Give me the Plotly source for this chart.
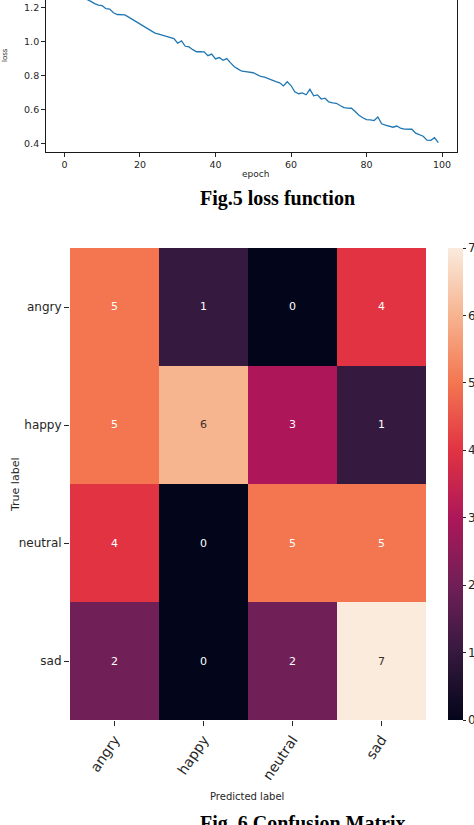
import plotly.graph_objects as go

# --- Fig.5 loss curve ---
epochs = list(range(100))
loss = [1.315, 1.305, 1.292, 1.280, 1.268, 1.258, 1.248, 1.235, 1.222, 1.213,
        1.210, 1.192, 1.190, 1.168, 1.158, 1.155, 1.156, 1.143, 1.130, 1.113,
        1.103, 1.088, 1.078, 1.062, 1.049, 1.043, 1.036, 1.029, 1.024, 1.017,
        0.990, 1.003, 0.972, 0.968, 0.952, 0.940, 0.940, 0.939, 0.917, 0.926,
        0.898, 0.906, 0.890, 0.900, 0.875, 0.852, 0.838, 0.826, 0.823, 0.822,
        0.817, 0.806, 0.795, 0.791, 0.782, 0.771, 0.765, 0.758, 0.740, 0.764,
        0.742, 0.705, 0.694, 0.699, 0.688, 0.720, 0.682, 0.687, 0.663, 0.668,
        0.646, 0.641, 0.638, 0.625, 0.613, 0.610, 0.609, 0.590, 0.568, 0.553,
        0.542, 0.541, 0.537, 0.558, 0.518, 0.510, 0.503, 0.498, 0.505, 0.492,
        0.487, 0.485, 0.486, 0.463, 0.452, 0.445, 0.422, 0.421, 0.437, 0.408]
loss_xticks = [0, 20, 40, 60, 80, 100]
loss_yticks = [0.4, 0.6, 0.8, 1.0, 1.2]

# --- Fig.6 confusion matrix ---
labels = ["angry", "happy", "neutral", "sad"]
cm = [[5, 1, 0, 4],
      [5, 6, 3, 1],
      [4, 0, 5, 5],
      [2, 0, 2, 7]]
cbar_ticks = [0, 1, 2, 3, 4, 5, 6, 7]

W, H = 474, 825
# seaborn "rocket" sampled at k/7
rocket = ["#03051a", "#35193e", "#701f57", "#ad1759",
          "#e13342", "#f37651", "#f6b48f", "#faebdd"]
colorscale = [[i / 7, c] for i, c in enumerate(rocket)]

small = "DejaVu Sans"
serif = "Liberation Serif, Times New Roman, serif"
ink = "#262626"


def px(x):
    return x / W


def py(y):
    return 1 - y / H


fig = go.Figure()
fig.add_trace(go.Scatter(x=epochs, y=loss, mode="lines",
                         line=dict(color="#1f77b4", width=1.3),
                         xaxis="x", yaxis="y", showlegend=False))

fig.add_trace(go.Heatmap(z=cm, x=labels, y=labels, zmin=0, zmax=7,
                         colorscale=colorscale, xaxis="x2", yaxis="y2",
                         showscale=True,
                         colorbar=dict(x=px(448), xanchor="left", xpad=0,
                                       y=py(720), yanchor="bottom", ypad=0,
                                       len=(720 - 248) / H, lenmode="fraction",
                                       thickness=15, outlinewidth=0,
                                       tickvals=cbar_ticks, ticks="outside",
                                       ticklen=3, tickcolor=ink,
                                       tickfont=dict(family=small, size=12, color=ink))))

annotations = []
for i, row in enumerate(cm):
    for j, v in enumerate(row):
        annotations.append(dict(x=labels[j], y=labels[i], xref="x2", yref="y2",
                                text=str(v), showarrow=False,
                                font=dict(family=small, size=11,
                                          color="#3a2c28" if v / 7 > 0.75 else "white")))

annotations += [
    dict(x=px(255), y=py(174), text="epoch", font=dict(family=small, size=9, color=ink)),
    dict(x=px(5), y=py(55), text="loss", textangle=-90, font=dict(family=small, size=7, color=ink)),
    dict(x=px(277), y=py(198), text="<b>Fig.5 loss function</b>",
         font=dict(family=serif, size=20, color="black")),
    dict(x=px(247), y=py(796), text="Predicted label", font=dict(family=small, size=10, color=ink)),
    dict(x=px(15), y=py(485), text="True label", textangle=-90, font=dict(family=small, size=11, color=ink)),
    dict(x=px(303), y=py(823), text="<b>Fig. 6 Confusion Matrix</b>",
         font=dict(family=serif, size=20, color="black")),
]
for a in annotations[len(cm) * 4:]:
    a.update(xref="paper", yref="paper", showarrow=False,
             xanchor="center", yanchor="middle")

fig.update_layout(
    width=W, height=H,
    margin=dict(l=0, r=0, t=0, b=0, autoexpand=False),
    paper_bgcolor="white", plot_bgcolor="white",
    annotations=annotations,
    xaxis=dict(domain=[px(45.7), px(457)], range=[-4.95, 103.95],
               tickvals=loss_xticks, ticks="outside", ticklen=3.5, tickcolor=ink,
               showline=True, linecolor="#1a1a1a", linewidth=1.2, mirror=False,
               showgrid=False, zeroline=False,
               tickfont=dict(family=small, size=9.5, color=ink)),
    yaxis=dict(domain=[py(152.3), 1], range=[0.351, 1.243],
               tickvals=loss_yticks, tickformat=".1f", ticks="outside", ticklen=3.5,
               tickcolor=ink, showline=True, linecolor="#1a1a1a", linewidth=1.2,
               mirror=True, showgrid=False, zeroline=False,
               tickfont=dict(family=small, size=9.5, color=ink)),
    xaxis2=dict(domain=[px(70), px(426)], anchor="y2", tickangle=-56,
                ticks="outside", ticklen=5, tickcolor=ink, showline=False,
                showgrid=False, zeroline=False,
                tickfont=dict(family=small, size=14, color=ink)),
    yaxis2=dict(domain=[py(720), py(248)], anchor="x2", autorange="reversed",
                ticks="outside", ticklen=5, tickcolor=ink, showline=False,
                showgrid=False, zeroline=False,
                tickfont=dict(family=small, size=12, color=ink)),
)

fig.write_html("out.html", config={"displayModeBar": False},
               post_script="document.body.style.margin='0';")
